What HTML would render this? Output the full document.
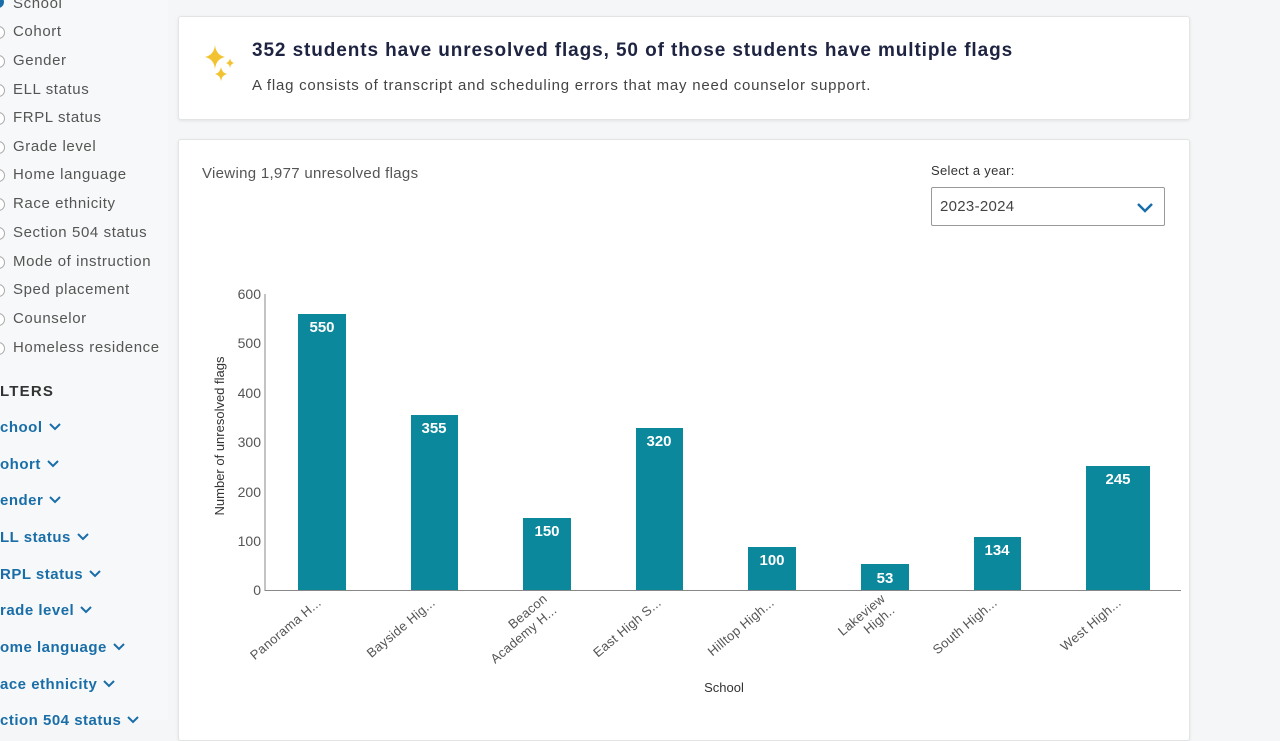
<!DOCTYPE html>
<html><head><meta charset="utf-8"><style>
body{margin:0;width:1280px;height:720px;overflow:hidden;background:#f5f6f7;font-family:"Liberation Sans",sans-serif;position:relative}
.s{position:absolute;left:13px;font-size:15px;color:#555;letter-spacing:0.6px}
.r{position:absolute;left:-8px;width:11px;height:11px;border:1px solid #aaa;border-radius:50%;background:#fff}
.f{position:absolute;left:0;font-size:15px;color:#1a6ea8;font-weight:bold;letter-spacing:0.5px}
.f svg{margin-left:6px;vertical-align:1px}
.card{position:absolute;background:#fff;border:1px solid #e2e4e6;border-radius:3px;box-shadow:0 1px 3px rgba(0,0,0,.08)}
</style></head><body>
<div style="position:absolute;left:0;top:0;width:168px;height:720px;background:#f7f8f9"></div>
<div class="s" style="top:-5px">School</div><div style="position:absolute;left:-8px;top:-4px;width:12px;height:12px;border-radius:50%;background:#1a6ea8"></div>
<div class="s" style="top:23px">Cohort</div><div class="r" style="top:26px"></div>
<div class="s" style="top:52px">Gender</div><div class="r" style="top:55px"></div>
<div class="s" style="top:81px">ELL status</div><div class="r" style="top:84px"></div>
<div class="s" style="top:109px">FRPL status</div><div class="r" style="top:112px"></div>
<div class="s" style="top:138px">Grade level</div><div class="r" style="top:141px"></div>
<div class="s" style="top:166px">Home language</div><div class="r" style="top:169px"></div>
<div class="s" style="top:195px">Race ethnicity</div><div class="r" style="top:198px"></div>
<div class="s" style="top:224px">Section 504 status</div><div class="r" style="top:227px"></div>
<div class="s" style="top:253px">Mode of instruction</div><div class="r" style="top:256px"></div>
<div class="s" style="top:281px">Sped placement</div><div class="r" style="top:284px"></div>
<div class="s" style="top:310px">Counselor</div><div class="r" style="top:313px"></div>
<div class="s" style="top:339px">Homeless residence</div><div class="r" style="top:342px"></div>
<div style="position:absolute;left:0;top:383px;font-size:15px;color:#333;letter-spacing:1.2px;font-weight:bold">LTERS</div>
<div class="f" style="top:419px">chool<svg width="12" height="8"><path d="M1 1 L6 6 L11 1" stroke="#1a6ea8" stroke-width="2" fill="none"/></svg></div>
<div class="f" style="top:456px">ohort<svg width="12" height="8"><path d="M1 1 L6 6 L11 1" stroke="#1a6ea8" stroke-width="2" fill="none"/></svg></div>
<div class="f" style="top:492px">ender<svg width="12" height="8"><path d="M1 1 L6 6 L11 1" stroke="#1a6ea8" stroke-width="2" fill="none"/></svg></div>
<div class="f" style="top:529px">LL status<svg width="12" height="8"><path d="M1 1 L6 6 L11 1" stroke="#1a6ea8" stroke-width="2" fill="none"/></svg></div>
<div class="f" style="top:566px">RPL status<svg width="12" height="8"><path d="M1 1 L6 6 L11 1" stroke="#1a6ea8" stroke-width="2" fill="none"/></svg></div>
<div class="f" style="top:602px">rade level<svg width="12" height="8"><path d="M1 1 L6 6 L11 1" stroke="#1a6ea8" stroke-width="2" fill="none"/></svg></div>
<div class="f" style="top:639px">ome language<svg width="12" height="8"><path d="M1 1 L6 6 L11 1" stroke="#1a6ea8" stroke-width="2" fill="none"/></svg></div>
<div class="f" style="top:676px">ace ethnicity<svg width="12" height="8"><path d="M1 1 L6 6 L11 1" stroke="#1a6ea8" stroke-width="2" fill="none"/></svg></div>
<div class="f" style="top:712px">ction 504 status<svg width="12" height="8"><path d="M1 1 L6 6 L11 1" stroke="#1a6ea8" stroke-width="2" fill="none"/></svg></div>

<div class="card" style="left:178px;top:16px;width:1010px;height:102px">
<svg style="position:absolute;left:24px;top:26px" width="34" height="42">
<path d="M12 2 Q13 12 22 14 Q13 16 12 26 Q11 16 2 14 Q11 12 12 2Z" fill="#f2c230"/>
<path d="M27 15 Q27.5 19 31 20 Q27.5 21 27 25 Q26.5 21 23 20 Q26.5 19 27 15Z" fill="#f2c230"/>
<path d="M18 24 Q19 30 24 31 Q19 32 18 38 Q17 32 12 31 Q17 30 18 24Z" fill="#f2c230"/>
</svg>
<div style="position:absolute;left:73px;top:23px;font-size:19px;font-weight:bold;color:#1d2340;letter-spacing:0.9px">352 students have unresolved flags, 50 of those students have multiple flags</div>
<div style="position:absolute;left:73px;top:60px;font-size:15px;color:#444;letter-spacing:0.78px">A flag consists of transcript and scheduling errors that may need counselor support.</div>
</div>
<div class="card" style="left:178px;top:139px;width:1010px;height:600px">
<div style="position:absolute;left:23px;top:25px;font-size:15px;color:#555;letter-spacing:0.3px">Viewing 1,977 unresolved flags</div>
<div style="position:absolute;left:752px;top:23px;font-size:13px;color:#333;letter-spacing:0.3px">Select a year:</div>
<div style="position:absolute;left:752px;top:47px;width:232px;height:37px;border:1px solid #999;border-radius:2px">
<div style="position:absolute;left:8px;top:10px;font-size:15px;color:#444;letter-spacing:0.3px">2023-2024</div>
<svg style="position:absolute;right:10px;top:13px" width="18" height="12"><path d="M2 3 L9 10 L16 3" stroke="#1a6ea8" stroke-width="2.5" fill="none"/></svg>
</div></div>

<svg style="position:absolute;left:0;top:0" width="1280" height="720" font-family="Liberation Sans, sans-serif">
<g font-size="14" fill="#555" text-anchor="end">
<text x="261" y="299">600</text><text x="261" y="348">500</text><text x="261" y="398">400</text><text x="261" y="447">300</text><text x="261" y="497">200</text><text x="261" y="546">100</text><text x="261" y="595">0</text>
</g>
<text transform="translate(224,436) rotate(-90)" font-size="13" fill="#333" text-anchor="middle">Number of unresolved flags</text>
<line x1="265" y1="294" x2="265" y2="591" stroke="#888"/>
<line x1="265" y1="590.5" x2="1181" y2="590.5" stroke="#888"/>
<g fill="#0b889b">
<rect x="298" y="314" width="48" height="276"/><rect x="411" y="415" width="47" height="175"/><rect x="523" y="518" width="48" height="72"/><rect x="636" y="428" width="47" height="162"/><rect x="748" y="547" width="48" height="43"/><rect x="861" y="564" width="48" height="26"/><rect x="974" y="537" width="47" height="53"/><rect x="1086" y="466" width="64" height="124"/>
</g>
<g font-size="15" font-weight="bold" fill="#fff" text-anchor="middle">
<text x="322" y="332">550</text><text x="434" y="433">355</text><text x="547" y="536">150</text><text x="659" y="446">320</text><text x="772" y="565">100</text><text x="885" y="583">53</text><text x="997" y="555">134</text><text x="1118" y="484">245</text>
</g>
<g font-size="13" fill="#555" text-anchor="end" letter-spacing="0.3">
<text transform="translate(322,604) rotate(-40)">Panorama H...</text>
<text transform="translate(436,604) rotate(-40)">Bayside Hig...</text>
<text transform="translate(548,600) rotate(-40)"><tspan x="0" y="0">Beacon</tspan><tspan x="0" y="15">Academy H...</tspan></text>
<text transform="translate(662,604) rotate(-40)">East High S...</text>
<text transform="translate(775,604) rotate(-40)">Hilltop High...</text>
<text transform="translate(886,600) rotate(-40)"><tspan x="0" y="0">Lakeview</tspan><tspan x="0" y="15">High..</tspan></text>
<text transform="translate(998,604) rotate(-40)">South High...</text>
<text transform="translate(1122,604) rotate(-40)">West High...</text>
</g>
<text x="724" y="692" font-size="13" fill="#333" text-anchor="middle">School</text>
</svg>
</body></html>
